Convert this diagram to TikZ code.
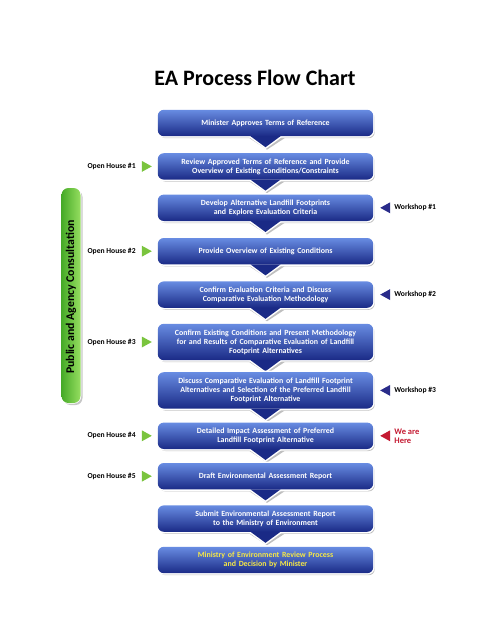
\documentclass[tikz,border=0pt]{standalone}
\usepackage{fontspec}
\setmainfont{Carlito}
\usepackage{xcolor}
\usetikzlibrary{positioning}
\usetikzlibrary{backgrounds}

\definecolor{boxtop}{RGB}{104,140,226}
\definecolor{boxmid}{RGB}{48,80,186}
\definecolor{boxbot}{RGB}{26,42,134}
\definecolor{ohgreen}{RGB}{122,196,62}
\definecolor{barlight}{RGB}{150,222,96}
\definecolor{bardark}{RGB}{70,170,40}
\definecolor{wsblue}{RGB}{42,44,138}
\definecolor{herered}{RGB}{196,26,50}
\definecolor{minyellow}{RGB}{246,232,70}

\begin{document}
\begin{tikzpicture}[x=1pt,y=-1pt,
	stepbox/.style={text width=205pt,minimum width=215pt,minimum height=26pt,
		align=center,inner sep=2pt,text=white,font=\bfseries\fontsize{7.9}{9}\selectfont},
	tallbox/.style={stepbox,minimum height=36pt},
	sidelabel/.style={font=\bfseries\fontsize{7.6}{9}\selectfont,inner sep=0pt}]
		\useasboundingbox (0,0) rectangle (495,640);
		\node[font=\bfseries\fontsize{22}{26}\selectfont] (title) at (255,78) {EA Process Flow Chart};

		% the eleven steps
		\node[stepbox] (b1) at (265.5,123) {Minister Approves Terms of Reference};
		\node[stepbox,below=17pt of b1] (b2) {Review Approved Terms of Reference and Provide\\Overview of Existing Conditions/Constraints};
		\node[stepbox,below=15pt of b2] (b3) {Develop Alternative Landfill Footprints\\and Explore Evaluation Criteria};
		\node[stepbox,below=17pt of b3] (b4) {Provide Overview of Existing Conditions};
		\node[stepbox,below=17pt of b4] (b5) {Confirm Evaluation Criteria and Discuss\\Comparative Evaluation Methodology};
		\node[tallbox,below=16pt of b5] (b6) {Confirm Existing Conditions and Present Methodology\\for and Results of Comparative Evaluation of Landfill\\Footprint Alternatives};
		\node[tallbox,below=12pt of b6] (b7) {Discuss Comparative Evaluation of Landfill Footprint\\Alternatives and Selection of the Preferred Landfill\\Footprint Alternative};
		\node[stepbox,below=14pt of b7] (b8) {Detailed Impact Assessment of Preferred\\Landfill Footprint Alternative};
		\node[stepbox,below=14pt of b8] (b9) {Draft Environmental Assessment Report};
		\node[stepbox,below=16pt of b9] (b10) {Submit Environmental Assessment Report\\to the Ministry of Environment};
		\node[stepbox,below=15pt of b10,text=minyellow] (b11) {Ministry of Environment Review Process\\and Decision by Minister};

		\begin{scope}[on background layer]
			\foreach \i in {1,...,11}
			{
				\fill[black!25,rounded corners=6pt] ([shift={(1.5pt,-2pt)}]b\i.north west) rectangle ([shift={(1.5pt,-2pt)}]b\i.south east);
				\ifnum\i<11
					\fill[black!25] ([shift={(-16pt,-2pt)}]b\i.south) -- ([shift={(1.5pt,-13.5pt)}]b\i.south) -- ([shift={(19pt,-2pt)}]b\i.south) -- cycle;
					\draw[white,line width=3pt] ([xshift=-15pt]b\i.south) -- ([yshift=-11pt]b\i.south) -- ([xshift=15pt]b\i.south);
				\fi
				\draw[white,line width=3pt,rounded corners=6pt] (b\i.north west) rectangle (b\i.south east);
				\shade[top color=boxtop,middle color=boxmid,bottom color=boxbot,rounded corners=6pt] (b\i.north west) rectangle (b\i.south east);
				\ifnum\i<11
					\fill[boxbot] ([xshift=-15pt]b\i.south) -- ([yshift=-11pt]b\i.south) -- ([xshift=15pt]b\i.south) -- cycle;
				\fi
			}
		\end{scope}

		% consultation bar
		\fill[black!22,rounded corners=7pt] (63.5,190) rectangle (82.5,405);
		\draw[white,line width=1.5pt,rounded corners=7pt] (61.5,188) rectangle (80.5,403);
		\shade[left color=bardark,right color=barlight,rounded corners=7pt] (61.5,188) rectangle (80.5,403);
		\node[rotate=90,font=\bfseries\fontsize{11.8}{13}\selectfont] (pac) at (71,297) {Public and Agency Consultation};

		% open houses
		\foreach \b/\n in {b2/1,b4/2,b6/3,b8/4,b9/5}
		{
			\coordinate (oh\n) at ([xshift=-6pt]\b.west);
			\fill[ohgreen] (oh\n) -- ++(-10pt,5.5pt) -- ++(0pt,-11pt) -- cycle;
			\node[sidelabel,anchor=east] (ohlabel\n) at ([xshift=-22pt]\b.west) {Open House \#\n};
		}

		% workshops
		\foreach \b/\n in {b3/1,b5/2,b7/3}
		{
			\coordinate (ws\n) at ([xshift=7pt]\b.east);
			\fill[wsblue] (ws\n) -- ++(10pt,5.5pt) -- ++(0pt,-11pt) -- cycle;
			\node[sidelabel,anchor=west] (wslabel\n) at ([xshift=21pt]\b.east) {Workshop \#\n};
		}
		\coordinate (here) at ([xshift=7pt]b8.east);
		\fill[herered] (here) -- ++(10pt,5.5pt) -- ++(0pt,-11pt) -- cycle;
		\node[sidelabel,anchor=west,align=left,text=herered,font=\bfseries\fontsize{8.5}{9}\selectfont] (herelabel) at ([xshift=21pt]b8.east) {We are\\Here};
\end{tikzpicture}
\end{document}
